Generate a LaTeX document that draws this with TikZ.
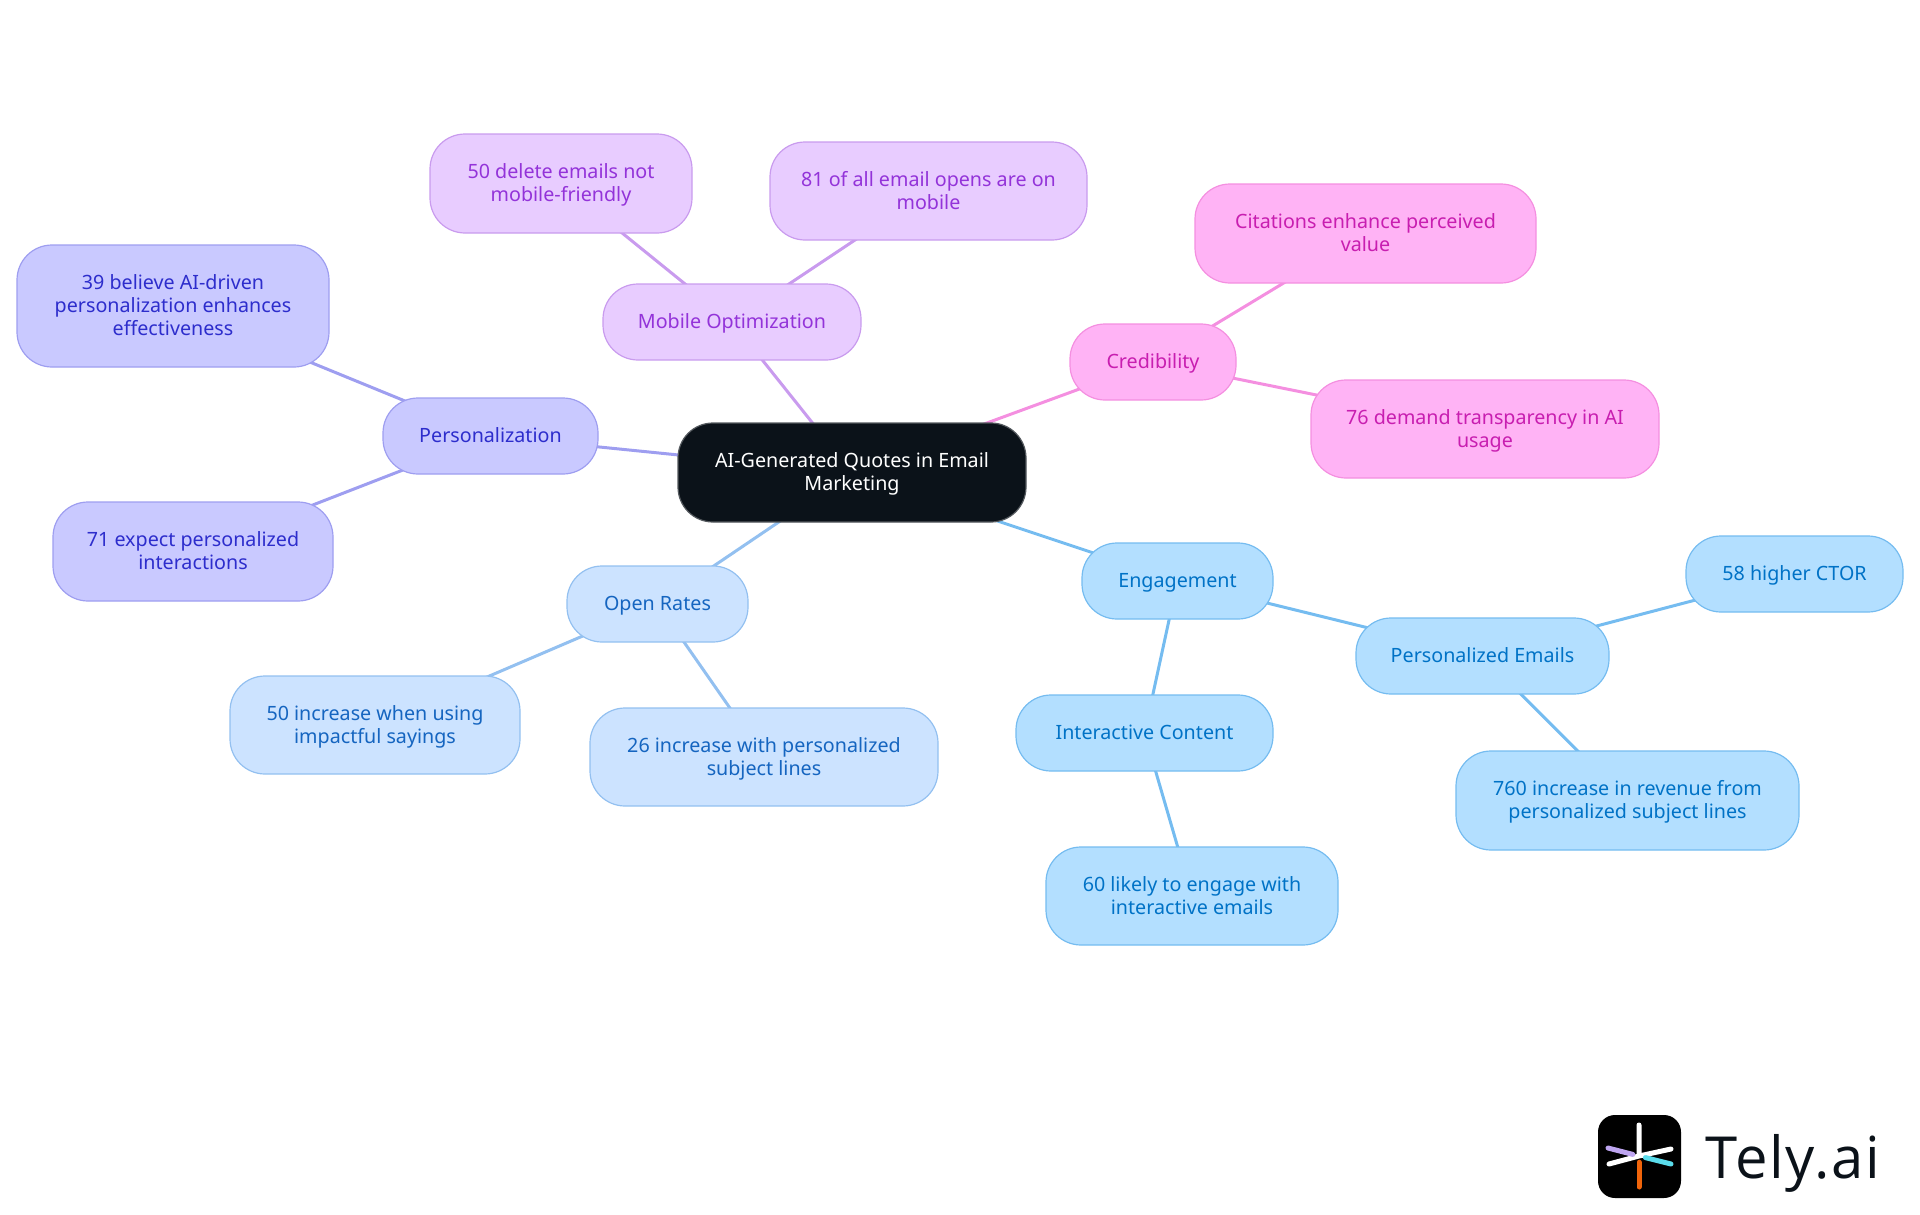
\documentclass[tikz,border=0pt]{standalone}
\usepackage{fontspec}
\setmainfont{Noto Sans}
\newfontfamily\logofont[LetterSpace=3]{Open Sans}
\usetikzlibrary{backgrounds,calc}
\definecolor{rootc}{HTML}{0B1219}
\definecolor{pf}{HTML}{C9C9FF}\definecolor{ps}{HTML}{9E9EF0}\definecolor{pt}{HTML}{2D2DCC}
\definecolor{mf}{HTML}{E8CCFF}\definecolor{ms}{HTML}{C99BEE}\definecolor{mt}{HTML}{9333D9}
\definecolor{cf}{HTML}{FFB3F5}\definecolor{cs}{HTML}{F48FE0}\definecolor{ct}{HTML}{C81EB0}
\definecolor{of}{HTML}{CCE3FF}\definecolor{os}{HTML}{93C0F0}\definecolor{ot}{HTML}{1565C0}
\definecolor{ef}{HTML}{B3DFFF}\definecolor{es}{HTML}{75BCF0}\definecolor{et}{HTML}{0072C6}
\definecolor{lp}{HTML}{BEA5F0}\definecolor{lc}{HTML}{5ADCEB}\definecolor{lo}{HTML}{F0640A}
\tikzset{
 box/.style={rounded corners=35pt,inner sep=0pt,align=center,line width=1.2pt,font=\fontsize{19.7}{23}\selectfont},
 rootbox/.style={box,fill=rootc,draw=rootc!70!white,text=white},
 pbox/.style={box,fill=pf,draw=ps,text=pt},
 mbox/.style={box,fill=mf,draw=ms,text=mt},
 cbox/.style={box,fill=cf,draw=cs,text=ct},
 obox/.style={box,fill=of,draw=os,text=ot},
 ebox/.style={box,fill=ef,draw=es,text=et},
 link/.style={line width=3pt},
 spoke/.style={line width=5pt,line cap=round},
}
\newcommand{\mm}[7]{%
 \pgfmathsetmacro{\cxx}{(#2+#4)/2}\pgfmathsetmacro{\cyy}{(#3+#5)/2}%
 \pgfmathsetmacro{\ww}{#4-#2}\pgfmathsetmacro{\hh}{#5-#3}%
 \node[#6,minimum width=\ww pt,minimum height=\hh pt] (#1) at (\cxx,\cyy) {\rule{0pt}{18pt}#7\rule[-5pt]{0pt}{5pt}};}
\begin{document}
\begin{tikzpicture}[x=1pt,y=-1pt]
\useasboundingbox (0,0) rectangle (1920,1215);
\mm{root}{678}{423}{1026}{522}{rootbox}{AI-Generated Quotes in Email\\Marketing}
\mm{pers}{383}{398}{598}{474}{pbox}{Personalization}
\mm{pa}{17}{245}{329}{367}{pbox}{39 believe AI-driven\\personalization enhances\\effectiveness}
\mm{pb}{53}{502}{333}{601}{pbox}{71 expect personalized\\interactions}
\mm{mob}{603}{284}{861}{360}{mbox}{Mobile Optimization}
\mm{ma}{430}{134}{692}{233}{mbox}{50 delete emails not\\mobile-friendly}
\mm{mb}{770}{142}{1087}{240}{mbox}{81 of all email opens are on\\mobile}
\mm{cred}{1070}{324}{1236}{400}{cbox}{Credibility}
\mm{ca}{1195}{184}{1536}{283}{cbox}{Citations enhance perceived\\value}
\mm{cb}{1311}{380}{1659}{478}{cbox}{76 demand transparency in AI\\usage}
\mm{open}{567}{566}{748}{642}{obox}{Open Rates}
\mm{oa}{230}{676}{520}{774}{obox}{50 increase when using\\impactful sayings}
\mm{ob}{590}{708}{938}{806}{obox}{26 increase with personalized\\subject lines}
\mm{eng}{1082}{543}{1273}{619}{ebox}{Engagement}
\mm{ia}{1016}{695}{1273}{771}{ebox}{Interactive Content}
\mm{ib}{1046}{847}{1338}{945}{ebox}{60 likely to engage with\\interactive emails}
\mm{pe}{1356}{618}{1609}{694}{ebox}{Personalized Emails}
\mm{pea}{1686}{536}{1903}{612}{ebox}{58 higher CTOR}
\mm{peb}{1456}{751}{1799}{850}{ebox}{760 increase in revenue from\\personalized subject lines}
\begin{scope}[on background layer]
\draw[link,ps] (root.center)--(pers.center) (pers.center)--(pa.center) (pers.center)--(pb.center);
\draw[link,ms] (root.center)--(mob.center) (mob.center)--(ma.center) (mob.center)--(mb.center);
\draw[link,cs] (root.center)--(cred.center) (cred.center)--(ca.center) (cred.center)--(cb.center);
\draw[link,os] (root.center)--(open.center) (open.center)--(oa.center) (open.center)--(ob.center);
\draw[link,es] (root.center)--(eng.center) (eng.center)--(ia.center) (ia.center)--(ib.center) (eng.center)--(pe.center) (pe.center)--(pea.center) (pe.center)--(peb.center);
\end{scope}
% logo
\fill[black,rounded corners=17pt] (1598,1115) rectangle (1681,1198);
\coordinate (hub) at (1639,1156);
\coordinate (s1) at (1639,1125);\coordinate (s2) at (1639,1187);
\coordinate (s3) at (1608,1148);\coordinate (s4) at (1671,1149);
\coordinate (s5) at (1609,1164);\coordinate (s6) at (1671,1164);
\draw[spoke,white] (hub)--(s1) (hub)--(s4) (hub)--(s5);
\draw[spoke,lp] ($(hub)!0.2!(s3)$)--(s3);
\draw[spoke,lc] ($(hub)!0.2!(s6)$)--(s6);
\draw[spoke,lo] ($(hub)!0.2!(s2)$)--(s2);
\node[anchor=base west,inner sep=0pt,text=rootc,font=\logofont\fontsize{58}{58}\selectfont] (logo) at (1705,1178) {Tely.ai};
\end{tikzpicture}
\end{document}
